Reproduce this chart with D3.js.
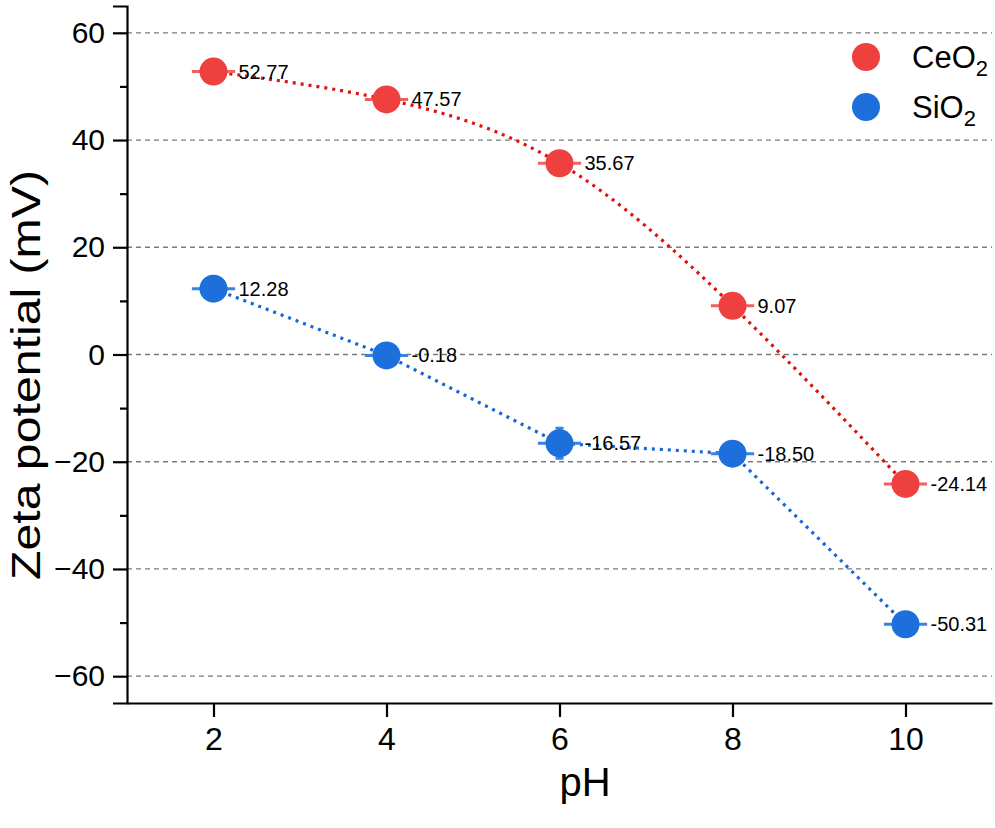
<!DOCTYPE html>
<html>
<head>
<meta charset="utf-8">
<script src="https://cdn.jsdelivr.net/npm/d3@7"></script>
<style>
  body { margin: 0; background: #fff; }
  svg { font-family: "Liberation Sans", Arial, sans-serif; }
</style>
</head>
<body>
<svg id="chart" width="995" height="828"></svg>
<script>
// data
var pH = [2, 4, 6, 8, 10];
var ceo2 = [52.77, 47.57, 35.67, 9.07, -24.14];
var sio2 = [12.28, -0.18, -16.57, -18.50, -50.31];
var ceo2Err = [0.4, 0.4, 0.4, 0.4, 0.4];
var sio2Err = [2.2, 0.4, 2.8, 0.4, 0.4];
var xErr = 0.25;
var yTicks = [-60, -40, -20, 0, 20, 40, 60];
var yMinor = [-50, -30, -10, 10, 30, 50];
var xTicks = [2, 4, 6, 8, 10];

var svg = d3.select("#chart");

var x = d3.scaleLinear().domain([1, 11]).range([127, 992]);
var y = d3.scaleLinear().domain([-65, 65]).range([703, 6]);

// dashed grid lines
svg.append("g")
  .selectAll("line")
  .data(yTicks)
  .enter()
  .append("line")
  .attr("x1", x(1))
  .attr("x2", x(11))
  .attr("y1", function (d) { return y(d); })
  .attr("y2", function (d) { return y(d); })
  .attr("stroke", "#7a7a7a")
  .attr("stroke-width", 1.3)
  .attr("stroke-dasharray", "5,4");

// axes
var yAxis = svg.append("g")
  .attr("transform", "translate(" + x(1) + ",0)")
  .call(d3.axisLeft(y).tickValues(yTicks).tickSize(14).tickPadding(8)
    .tickFormat(function (d) { return d < 0 ? "\u2212" + Math.abs(d) : d; }));
svg.append("g")
  .attr("transform", "translate(" + x(1) + ",0)")
  .call(d3.axisLeft(y).tickValues(yMinor).tickSize(7).tickFormat(""))
  .call(function (g) { g.select(".domain").remove(); });

var xAxis = svg.append("g")
  .attr("transform", "translate(0," + y(-65) + ")")
  .call(d3.axisBottom(x).tickValues(xTicks).tickSize(14).tickPadding(10).tickSizeOuter(0));

svg.selectAll(".domain").attr("stroke", "#000").attr("stroke-width", 2.2);
svg.selectAll(".tick line").attr("stroke", "#000").attr("stroke-width", 2.2);
yAxis.selectAll("text").attr("font-size", 30).attr("fill", "#000")
  .attr("font-family", "Liberation Sans, Arial, sans-serif");
xAxis.selectAll("text").attr("font-size", 32).attr("fill", "#000")
  .attr("font-family", "Liberation Sans, Arial, sans-serif");

// axis titles
svg.append("text")
  .attr("x", 585)
  .attr("y", 796)
  .attr("text-anchor", "middle")
  .attr("font-size", 40)
  .text("pH");

svg.append("text")
  .attr("transform", "translate(40," + 375 + ") rotate(-90)")
  .attr("text-anchor", "middle")
  .attr("font-size", 40)
  .attr("textLength", 410)
  .attr("lengthAdjust", "spacingAndGlyphs")
  .text("Zeta potential (mV)");

function drawSeries(vals, errs, markerCol, lineCol, barCol, curve) {
  var pts = pH.map(function (p, i) { return [p, vals[i], errs[i]]; });
  var line = d3.line()
    .x(function (d) { return x(d[0]); })
    .y(function (d) { return y(d[1]); })
    .curve(curve);

  svg.append("path")
    .datum(pts)
    .attr("d", line)
    .attr("fill", "none")
    .attr("stroke", lineCol)
    .attr("stroke-width", 3.2)
    .attr("stroke-dasharray", "3,5");

  var g = svg.append("g");
  // horizontal error bars
  g.selectAll(".xe").data(pts).enter().append("line")
    .attr("x1", function (d) { return x(d[0] - xErr); })
    .attr("x2", function (d) { return x(d[0] + xErr); })
    .attr("y1", function (d) { return y(d[1]); })
    .attr("y2", function (d) { return y(d[1]); })
    .attr("stroke", barCol)
    .attr("stroke-width", 3);
  // vertical error bars
  g.selectAll(".ye").data(pts).enter().append("line")
    .attr("x1", function (d) { return x(d[0]); })
    .attr("x2", function (d) { return x(d[0]); })
    .attr("y1", function (d) { return y(d[1] - d[2]); })
    .attr("y2", function (d) { return y(d[1] + d[2]); })
    .attr("stroke", barCol)
    .attr("stroke-width", 3);
  g.selectAll(".yc").data(pts).enter().append("path")
    .attr("d", function (d) {
      return "M" + (x(d[0]) - 4) + "," + y(d[1] + d[2]) + "h8" +
        "M" + (x(d[0]) - 4) + "," + y(d[1] - d[2]) + "h8";
    })
    .attr("stroke", barCol)
    .attr("stroke-width", 3);

  g.selectAll("circle").data(pts).enter().append("circle")
    .attr("cx", function (d) { return x(d[0]); })
    .attr("cy", function (d) { return y(d[1]); })
    .attr("r", 14)
    .attr("fill", markerCol);

  g.selectAll("text").data(pts).enter().append("text")
    .attr("x", function (d) { return x(d[0]) + 25; })
    .attr("y", function (d) { return y(d[1]) + 7; })
    .attr("font-size", 20)
    .attr("fill", "#000")
    .text(function (d) { return d[1].toFixed(2); });
}

drawSeries(ceo2, ceo2Err, "#ef4040", "#e01010", "#f06060", d3.curveNatural);
drawSeries(sio2, sio2Err, "#1d6fdc", "#1666d6", "#3a82e2", d3.curveLinear);

// legend
var legend = [
  { name: "CeO", sub: "2", color: "#ef4040" },
  { name: "SiO", sub: "2", color: "#1d6fdc" }
];
var lg = svg.append("g").selectAll("g").data(legend).enter().append("g")
  .attr("transform", function (d, i) { return "translate(866," + (57 + i * 50) + ")"; });
lg.append("circle").attr("r", 14).attr("fill", function (d) { return d.color; });
var lt = lg.append("text").attr("x", 46).attr("y", 11).attr("font-size", 31);
lt.append("tspan").text(function (d) { return d.name; });
lt.append("tspan").attr("dy", 8).attr("font-size", 22).text(function (d) { return d.sub; });
</script>
</body>
</html>
